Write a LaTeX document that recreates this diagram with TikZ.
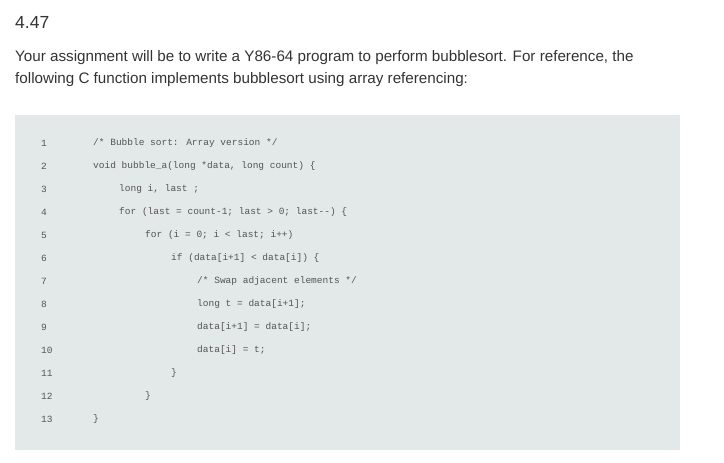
\documentclass[tikz,border=0pt]{standalone}
\usepackage{fontspec}
\setmainfont{Liberation Sans}
\newfontfamily\codefont{Liberation Mono}
\definecolor{bg}{HTML}{E2E9E8}
\definecolor{txt}{HTML}{333333}
\definecolor{code}{HTML}{555555}
\begin{document}
\begin{tikzpicture}[x=1pt,y=-1pt,
  body/.style={anchor=west,inner sep=0,text=txt,font=\fontsize{15.2}{17}\selectfont},
  num/.style={anchor=west,inner sep=0,text=code,font=\codefont\fontsize{9.5}{10}\selectfont},
  cl/.style={anchor=west,inner sep=0,text=code,font=\codefont\fontsize{9.5}{10}\selectfont}]
\useasboundingbox (0,0) rectangle (724,463);
\fill[bg] (15,115) rectangle (680,450);
\node[body,font=\fontsize{17.5}{19}\selectfont] (t) at (15,22) {4.47};
\node[body] (p1) at (15,58) {Your assignment will be to write a Y86-64 program to perform bubblesort. For reference, the};
\node[body] (p2) at (15,80) {following C function implements bubblesort using array referencing:};
\foreach \n [count=\i] in {1,...,13}{
  \node[num] (n\i) at (41,{143+(\i-1)*23}) {\n};
}
\newcommand{\codeln}[3]{\node[cl] (c#1) at ({93+#2*26},{143+(#1-1)*23}) {#3};}
\codeln{1}{0}{/* Bubble sort: Array version */}
\codeln{2}{0}{void bubble\_a(long *data, long count) \{}
\codeln{3}{1}{long i, last ;}
\codeln{4}{1}{for (last = count-1; last > 0; last--) \{}
\codeln{5}{2}{for (i = 0; i < last; i++)}
\codeln{6}{3}{if (data[i+1] < data[i]) \{}
\codeln{7}{4}{/* Swap adjacent elements */}
\codeln{8}{4}{long t = data[i+1];}
\codeln{9}{4}{data[i+1] = data[i];}
\codeln{10}{4}{data[i] = t;}
\codeln{11}{3}{\}}
\codeln{12}{2}{\}}
\codeln{13}{0}{\}}
\end{tikzpicture}
\end{document}
